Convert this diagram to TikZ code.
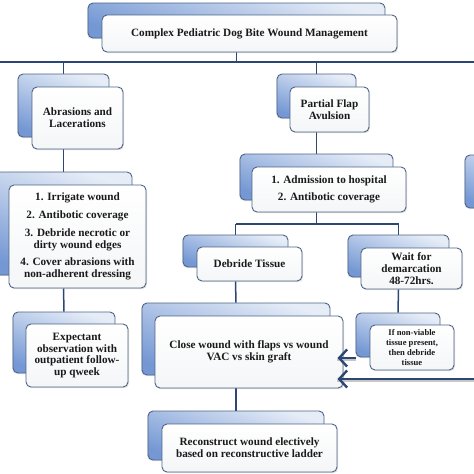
\documentclass[tikz,border=0pt]{standalone}
\usepackage{fontspec}
\setmainfont{Liberation Serif}
\usetikzlibrary{arrows.meta,shadows,backgrounds}
\definecolor{navy}{HTML}{2C4773}
\definecolor{edgec}{HTML}{4D6486}
\definecolor{backtop}{HTML}{E6EDF7}
\definecolor{backbot}{HTML}{7598D4}
\definecolor{txt}{HTML}{1A1A1A}
\begin{document}
\begin{tikzpicture}[x=1pt,y=-1pt,
  backbox/.style={draw=edgec, line width=0.9pt, rounded corners=5pt,
    top color=backtop, bottom color=backbot, shading angle=-20, inner sep=0pt,
    drop shadow={opacity=0.2, shadow xshift=-0.8pt, shadow yshift=-1pt}},
  frontbox/.style={draw=edgec, line width=0.9pt, rounded corners=5pt,
    top color=white, bottom color=white!94!edgec, inner sep=1pt, align=center,
    text=txt, font=\bfseries\fontsize{11.2}{11.7}\selectfont,
    drop shadow={opacity=0.25, shadow xshift=1pt, shadow yshift=-1.2pt}},
  smalltext/.style={font=\bfseries\fontsize{8.6}{9.8}\selectfont},
  conn/.style={draw=navy, line width=1.5pt},
  arr/.style={draw=navy, line width=2.4pt,
    -{Straight Barb[length=8pt, width=17pt, line width=2.4pt]},
    preaction={draw=gray!45, line width=2pt, -, transform canvas={yshift=-1.6pt}}}]
\useasboundingbox (0,0) rectangle (474,474);
\clip (0,0) rectangle (474,474);

% top
\node[backbox, minimum width=297pt, minimum height=35pt] (topB) at (236.5,20.5) {};
\node[frontbox, minimum width=295pt, minimum height=37pt] (top) at (249.5,33.5)
  {Complex Pediatric Dog Bite Wound Management};

% abrasions
\node[backbox, minimum width=91pt, minimum height=63pt] (abrB) at (63.5,105.5) {};
\node[frontbox, minimum width=91pt, minimum height=62pt] (abr) at (77.5,118)
  {Abrasions and\\Lacerations};

% partial flap
\node[backbox, minimum width=79pt, minimum height=44pt] (flapB) at (316.5,96) {};
\node[frontbox, minimum width=79pt, minimum height=45pt] (flap) at (329.5,109.5)
  {Partial Flap\\Avulsion};

% third column (cut off)
\node[backbox, minimum width=100pt, minimum height=53pt] (thirdB) at (515,181.5) {};

% list
\node[backbox, minimum width=137pt, minimum height=103pt] (listB) at (63.5,223.5) {};
\node[frontbox, minimum width=137pt, minimum height=103pt] (list) at (77.5,236.5)
  {1. Irrigate wound\\[6pt]2. Antibotic coverage\\[6pt]3. Debride necrotic or\\dirty wound edges\\[6pt]4. Cover abrasions with\\non-adherent dressing};

% expectant
\node[backbox, minimum width=102pt, minimum height=61pt] (expB) at (64,342.5) {};
\node[frontbox, minimum width=102pt, minimum height=63pt] (exp) at (77,355.5)
  {Expectant\\observation with\\outpatient follow-\\up qweek};

% admission
\node[backbox, minimum width=153pt, minimum height=46pt] (admB) at (316.5,177) {};
\node[frontbox, minimum width=154pt, minimum height=45pt] (adm) at (329,189.5)
  {1. Admission to hospital\\[5pt]2. Antibotic coverage};

% debride
\node[backbox, minimum width=105pt, minimum height=32pt] (debB) at (235.5,251) {};
\node[frontbox, minimum width=105pt, minimum height=34pt] (deb) at (249.5,264)
  {Debride Tissue};

% wait
\node[backbox, minimum width=101pt, minimum height=42pt] (waitB) at (398.5,256) {};
\node[frontbox, minimum width=101pt, minimum height=41pt] (wait) at (411.5,268.5)
  {Wait for\\demarcation\\48-72hrs.};

% close
\node[backbox, minimum width=188pt, minimum height=72pt] (closeB) at (236,339) {};
\node[frontbox, minimum width=188pt, minimum height=72pt] (close) at (249,352)
  {Close wound with flaps vs wound\\VAC vs skin graft};

% non-viable
\node[backbox, minimum width=84pt, minimum height=44pt] (nonvB) at (398,335) {};
\node[frontbox, smalltext, minimum width=84pt, minimum height=45pt] (nonv) at (412,347.5)
  {If non-viable\\tissue present,\\then debride\\tissue};

% reconstruct
\node[backbox, minimum width=176pt, minimum height=49pt] (reconB) at (236,435.5) {};
\node[frontbox, minimum width=175pt, minimum height=48pt] (recon) at (249.5,448)
  {Reconstruct wound electively\\based on reconstructive ladder};

\begin{pgfonlayer}{background}
  \coordinate (busL) at (0,62);
  \coordinate (busR) at (474,62);
  \coordinate (sub) at (316,224);
  \draw[conn] (busL) -- (busR);
  \draw[conn] (topB.center |- top.south) -- (topB.center |- busL);
  \draw[conn] (abrB.north) -- (abrB.north |- busL);
  \draw[conn] (flapB.north) -- (flapB.north |- busL);
  \draw[conn] (flapB.center |- flap.south) -- (admB.north);
  \draw[conn] (admB.center |- adm.south) -- (admB.center |- sub);
  \draw[conn] (debB.north |- sub) -- (waitB.north |- sub);
  \draw[conn] (debB.north) -- (debB.north |- sub);
  \draw[conn] (waitB.north) -- (waitB.north |- sub);
  \draw[conn] (debB.center |- deb.south) -- (closeB.north);
  \draw[conn] (closeB.center |- close.south) -- (reconB.north);
  \draw[conn] (abrB.center |- abr.south) -- (listB.north);
  \draw[conn] (listB.center |- list.south) -- (expB.north);
  \draw[conn] (waitB.center |- wait.south) -- (nonvB.north);
\end{pgfonlayer}

\coordinate (a1y) at (0,358);
\coordinate (rin) at (474,379);
\draw[arr] (nonvB.west |- a1y) -- ([xshift=-6pt]close.east |- a1y);
\draw[arr] (rin) -- ([xshift=-6pt]close.east |- rin);
\end{tikzpicture}
\end{document}
